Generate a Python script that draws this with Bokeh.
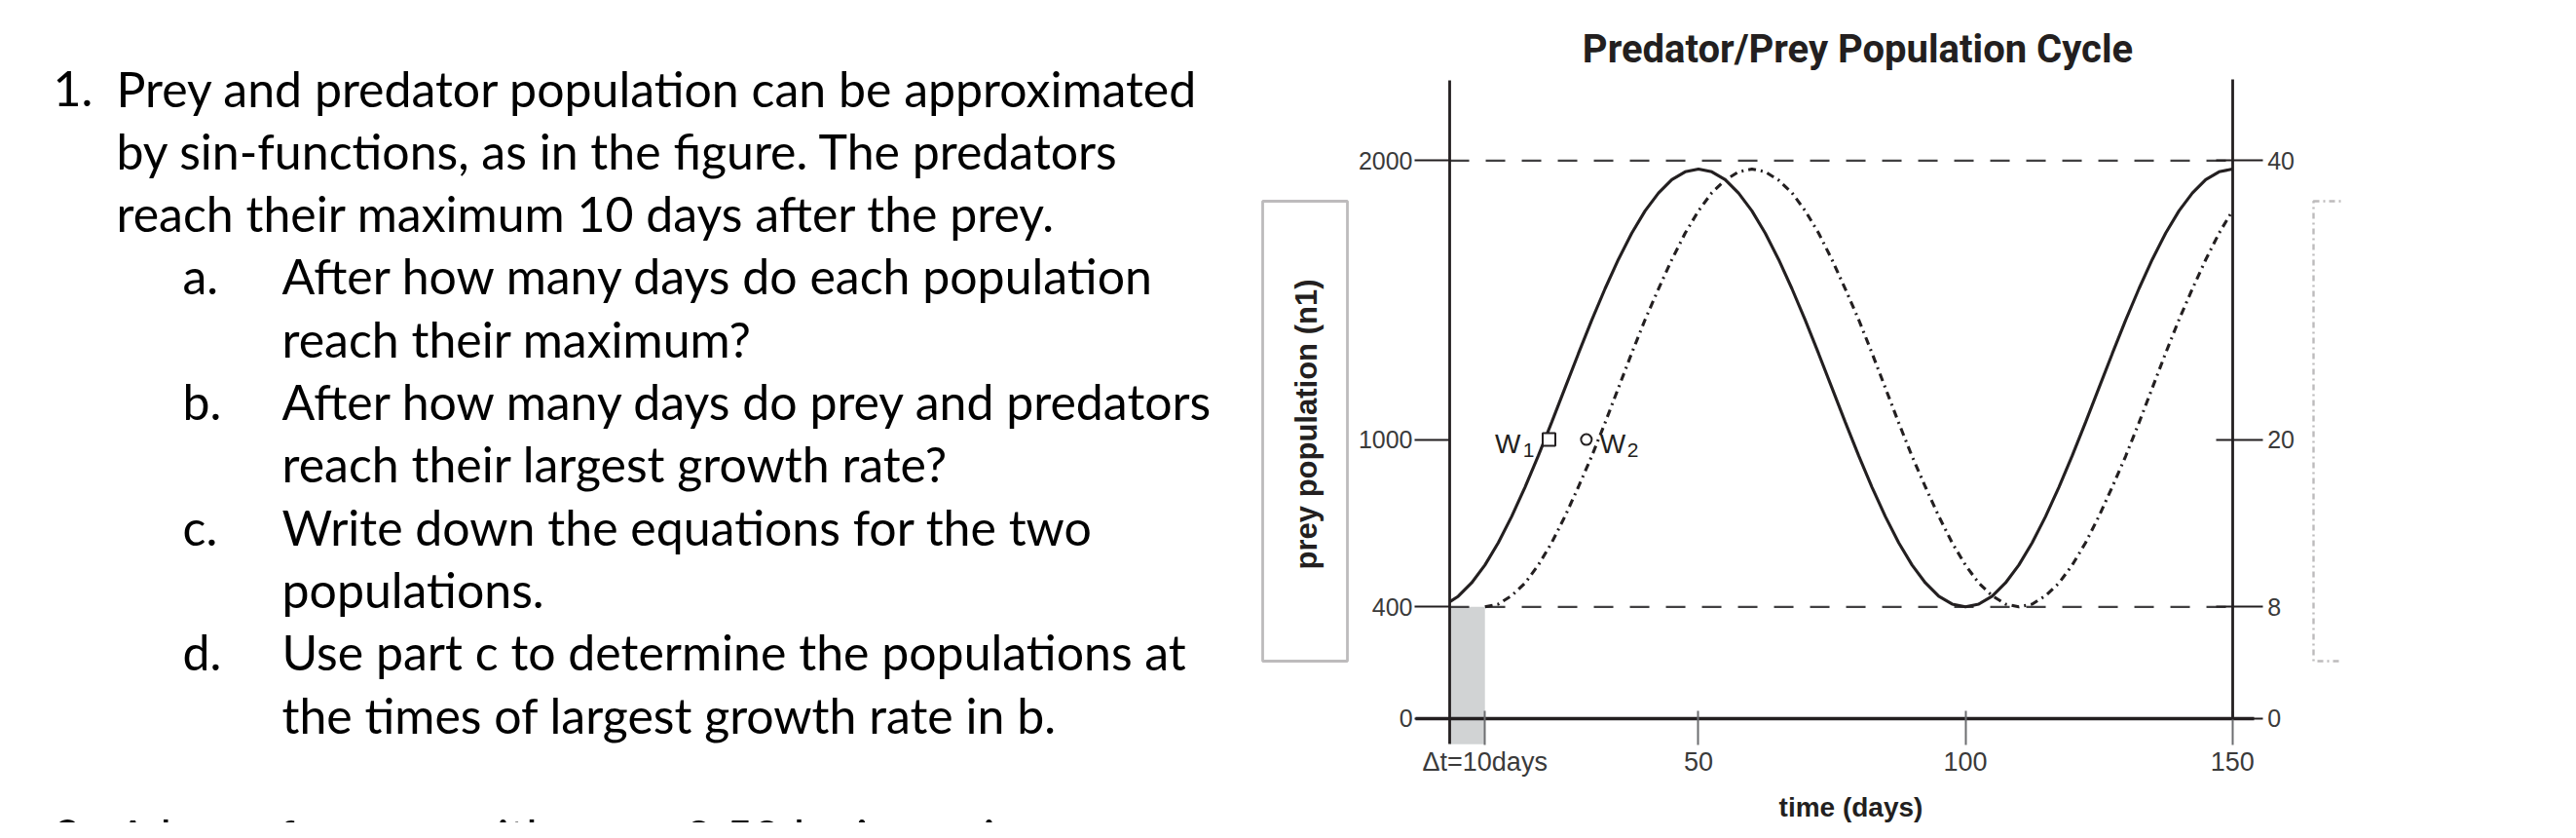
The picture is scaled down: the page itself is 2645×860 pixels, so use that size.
from bokeh.core.properties import value
from bokeh.embed import file_html
from bokeh.models import BoxAnnotation, FixedTicker, Label, LinearAxis, Range1d
from bokeh.plotting import figure
from bokeh.resources import INLINE

# --- chart data ----------------------------------------------------------
prey_days = [3.4, 5, 7.5, 10, 12.5, 15, 17.5, 20, 22.5, 25, 27.5, 30, 32.5, 35, 37.5,
             40, 42.5, 45, 47.5, 50, 52.5, 55, 57.5, 60, 62.5, 65, 67.5, 70, 72.5, 75,
             77.5, 80, 82.5, 85, 87.5, 90, 92.5, 95, 97.5, 100, 102.5, 105, 107.5, 110,
             112.5, 115, 117.5, 120, 122.5, 125, 127.5, 130, 132.5, 135, 137.5, 140,
             142.5, 145, 147.5, 150]
prey_counts = [418, 438, 486, 550, 630, 724, 829, 942, 1062, 1185, 1308, 1428, 1541, 1646,
               1740, 1820, 1884, 1932, 1960, 1970, 1960, 1932, 1884, 1820, 1740, 1646, 1541,
               1428, 1308, 1185, 1062, 942, 829, 724, 630, 550, 486, 438, 410, 400, 410, 438,
               486, 550, 630, 724, 829, 942, 1062, 1185, 1308, 1428, 1541, 1646, 1740, 1820,
               1884, 1932, 1960, 1970]

predator_days = [10, 12.5, 15, 17.5, 20, 22.5, 25, 27.5, 30, 32.5, 35, 37.5, 40, 42.5, 45,
                 47.5, 50, 52.5, 55, 57.5, 60, 62.5, 65, 67.5, 70, 72.5, 75, 77.5, 80, 82.5,
                 85, 87.5, 90, 92.5, 95, 97.5, 100, 102.5, 105, 107.5, 110, 112.5, 115, 117.5,
                 120, 122.5, 125, 127.5, 130, 132.5, 135, 137.5, 140, 142.5, 145, 147.5, 150]
predator_counts = [8.0, 8.2, 8.8, 9.7, 11.0, 12.6, 14.5, 16.6, 18.8, 21.2, 23.7, 26.2, 28.6,
                   30.8, 32.9, 34.8, 36.4, 37.7, 38.6, 39.2, 39.4, 39.2, 38.6, 37.7, 36.4, 34.8,
                   32.9, 30.8, 28.6, 26.2, 23.7, 21.2, 18.8, 16.6, 14.5, 12.6, 11.0, 9.7, 8.8,
                   8.2, 8.0, 8.2, 8.8, 9.7, 11.0, 12.6, 14.5, 16.6, 18.8, 21.2, 23.7, 26.2, 28.6,
                   30.8, 32.9, 34.8, 36.4]

time_ticks = [10, 50, 100, 150]
time_tick_labels = {10: "Δt=10days"}
prey_ticks = [0, 400, 1000, 2000]
predator_ticks = [0, 8, 20, 40]
level_counts = [400, 2000]

w1_day, w1_prey = [22], [1000]
w2_day, w2_predator = [29], [20]

AXIS_START_DAY = 3.4
shade_days = [AXIS_START_DAY, 10]
shade_counts = [-92, 400]

question_lines = [
    ("1.", "Prey and predator population can be approximated", 0),
    ("", "by sin-functions, as in the figure. The predators", 0),
    ("", "reach their maximum 10 days after the prey.", 0),
    ("a.", "After how many days do each population", 1),
    ("", "reach their maximum?", 1),
    ("b.", "After how many days do prey and predators", 1),
    ("", "reach their largest growth rate?", 1),
    ("c.", "Write down the equations for the two", 1),
    ("", "populations.", 1),
    ("d.", "Use part c to determine the populations at", 1),
    ("", "the times of largest growth rate in b.", 1),
]
next_question = ("2.", "A box of grapes with mass 0.50 kg is resting on a")

# --- styling ---------------------------------------------------------------
INK = "#231f20"
DASH_GREY = "#414042"
SHADE = "#d1d3d4"
W, H = 2629, 844


def sx(px):
    # page pixel -> screen x of the frame
    return px - 8


def sy(py):
    # page pixel -> screen y of the frame (measured from bottom)
    return H + 8 - py


p = figure(width=W, height=H, output_backend="svg", toolbar_location=None, tools="",
           x_range=Range1d(-268.04, 211.53), y_range=Range1d(-374.5, 2574.3),
           x_axis_location=None, y_axis_location=None, min_border=0,
           outline_line_color=None, title=None)
p.extra_y_ranges = {"predator": Range1d(-7.49, 51.486)}
p.xgrid.visible = False
p.ygrid.visible = False

# shaded delta-t and the 400 / 2000 guide levels
p.quad(left=[shade_days[0]], right=[shade_days[1]], bottom=[shade_counts[0]],
       top=[shade_counts[1]], fill_color=SHADE, line_color=None)
p.segment(x0=AXIS_START_DAY, x1=time_ticks[-1], y0=level_counts, y1=level_counts,
          line_color=DASH_GREY, line_width=2.3, line_dash="20 17")

p.line(prey_days, prey_counts, line_color=INK, line_width=3.1)
p.line(predator_days, predator_counts, y_range_name="predator", line_color=INK,
       line_width=3.1, line_dash="8 5 2 5")

p.scatter(w1_day, w1_prey, marker="square", size=13, fill_color="white",
          line_color=INK, line_width=2)
p.scatter(w2_day, w2_predator, marker="circle", size=11, fill_color="white",
          line_color=INK, line_width=2, y_range_name="predator")

w_font = dict(text_baseline="alphabetic", text_font=value("Liberation Sans"),
              text_color=INK)
p.text(w1_day, w1_prey, text=["W"], x_offset=-29, y_offset=4, text_align="right",
       text_font_size="28px", **w_font)
p.text(w1_day, w1_prey, text=["1"], x_offset=-15, y_offset=11, text_align="right",
       text_font_size="21px", **w_font)
p.text(w2_day, w2_predator, text=["W"], x_offset=14, y_offset=4, text_align="left",
       text_font_size="28px", y_range_name="predator", **w_font)
p.text(w2_day, w2_predator, text=["2"], x_offset=42, y_offset=11, text_align="left",
       text_font_size="21px", y_range_name="predator", **w_font)

# axes
x_axis = LinearAxis(fixed_location=0, bounds=(-3.0, 154.1),
                    ticker=FixedTicker(ticks=time_ticks),
                    major_label_overrides=time_tick_labels)
x_axis.axis_line_width = 3.3
x_axis.axis_line_color = INK
x_axis.major_tick_in = 8
x_axis.major_tick_out = 27
x_axis.major_tick_line_width = 2
x_axis.major_tick_line_color = "#6d6e71"
x_axis.minor_tick_line_color = None
x_axis.major_label_standoff = 3
x_axis.major_label_text_font = "Liberation Sans"
x_axis.major_label_text_font_size = "27px"
x_axis.major_label_text_color = "#3a3a3a"
p.add_layout(x_axis, "below")

left_axis = LinearAxis(fixed_location=AXIS_START_DAY, bounds=(-92, 2288),
                       ticker=FixedTicker(ticks=prey_ticks))
right_axis = LinearAxis(y_range_name="predator", fixed_location=time_ticks[-1],
                        bounds=(0, 45.8), ticker=FixedTicker(ticks=predator_ticks))
for ax in (left_axis, right_axis):
    ax.axis_line_width = 2.8
    ax.axis_line_color = INK
    ax.major_tick_line_width = 1.8
    ax.major_tick_line_color = INK
    ax.minor_tick_line_color = None
    ax.major_label_text_font = "Liberation Sans"
    ax.major_label_text_font_size = "25px"
    ax.major_label_text_color = "#3a3a3a"
left_axis.major_tick_in = 0
left_axis.major_tick_out = 36
left_axis.major_label_standoff = 2
right_axis.major_tick_in = 17
right_axis.major_tick_out = 31
right_axis.major_label_standoff = 5
p.add_layout(left_axis, "left")
p.add_layout(right_axis, "right")

# label boxes beside the chart (the right one is cut off in the source)
p.add_layout(BoxAnnotation(left=sx(1304), right=sx(1391), top=sy(214), bottom=sy(686),
                           left_units="screen", right_units="screen",
                           top_units="screen", bottom_units="screen",
                           fill_color=None, line_color=INK, line_width=2.8))
p.add_layout(BoxAnnotation(left=sx(2383), right=sx(2440), top=sy(214), bottom=sy(686),
                           left_units="screen", right_units="screen",
                           top_units="screen", bottom_units="screen",
                           fill_color=None, line_color=INK, line_width=2.4,
                           line_dash="6 4 2 4"))
p.add_layout(BoxAnnotation(left=sx(2412), right=sx(2700), top=sy(150), bottom=sy(750),
                           left_units="screen", right_units="screen",
                           top_units="screen", bottom_units="screen",
                           fill_color="white", fill_alpha=1.0, line_color=None))

p.add_layout(Label(x=sx(1349), y=sy(443), x_units="screen", y_units="screen",
                   text="prey population (n1)", angle=90, angle_units="deg",
                   text_align="center", text_baseline="middle",
                   text_font="Liberation Sans", text_font_style="bold",
                   text_font_size="31px", text_color=INK))
p.add_layout(Label(x=sx(1915), y=sy(58), x_units="screen", y_units="screen",
                   text="Predator/Prey Population Cycle", text_align="center",
                   text_baseline="alphabetic", text_font="Roboto",
                   text_font_style="bold", text_font_size="40px", text_color=INK))
p.add_layout(Label(x=sx(1908), y=1, x_units="screen", y_units="screen",
                   text="time (days)", text_align="center", text_baseline="bottom",
                   text_font="Liberation Sans", text_font_style="bold",
                   text_font_size="28px", text_color=INK))

# the exercise text on the left
FIRST_BASELINE = 98
LINE_GAP = 64.3
MARK_X = [62, 195]
BODY_X = [127, 297]


def add_text(x, baseline, text):
    p.add_layout(Label(x=sx(x), y=sy(baseline), x_units="screen", y_units="screen",
                       text=text, text_align="left", text_baseline="alphabetic",
                       text_font="Lato", text_font_size="50px", text_color="black"))


for i, (mark, body, level) in enumerate(question_lines):
    baseline = FIRST_BASELINE + i * LINE_GAP
    if mark:
        add_text(MARK_X[level], baseline, mark)
    add_text(BODY_X[level], baseline, body)

add_text(MARK_X[0], 866, next_question[0])
add_text(BODY_X[0], 866, next_question[1])

open("out.html", "w").write(file_html(p, INLINE))
